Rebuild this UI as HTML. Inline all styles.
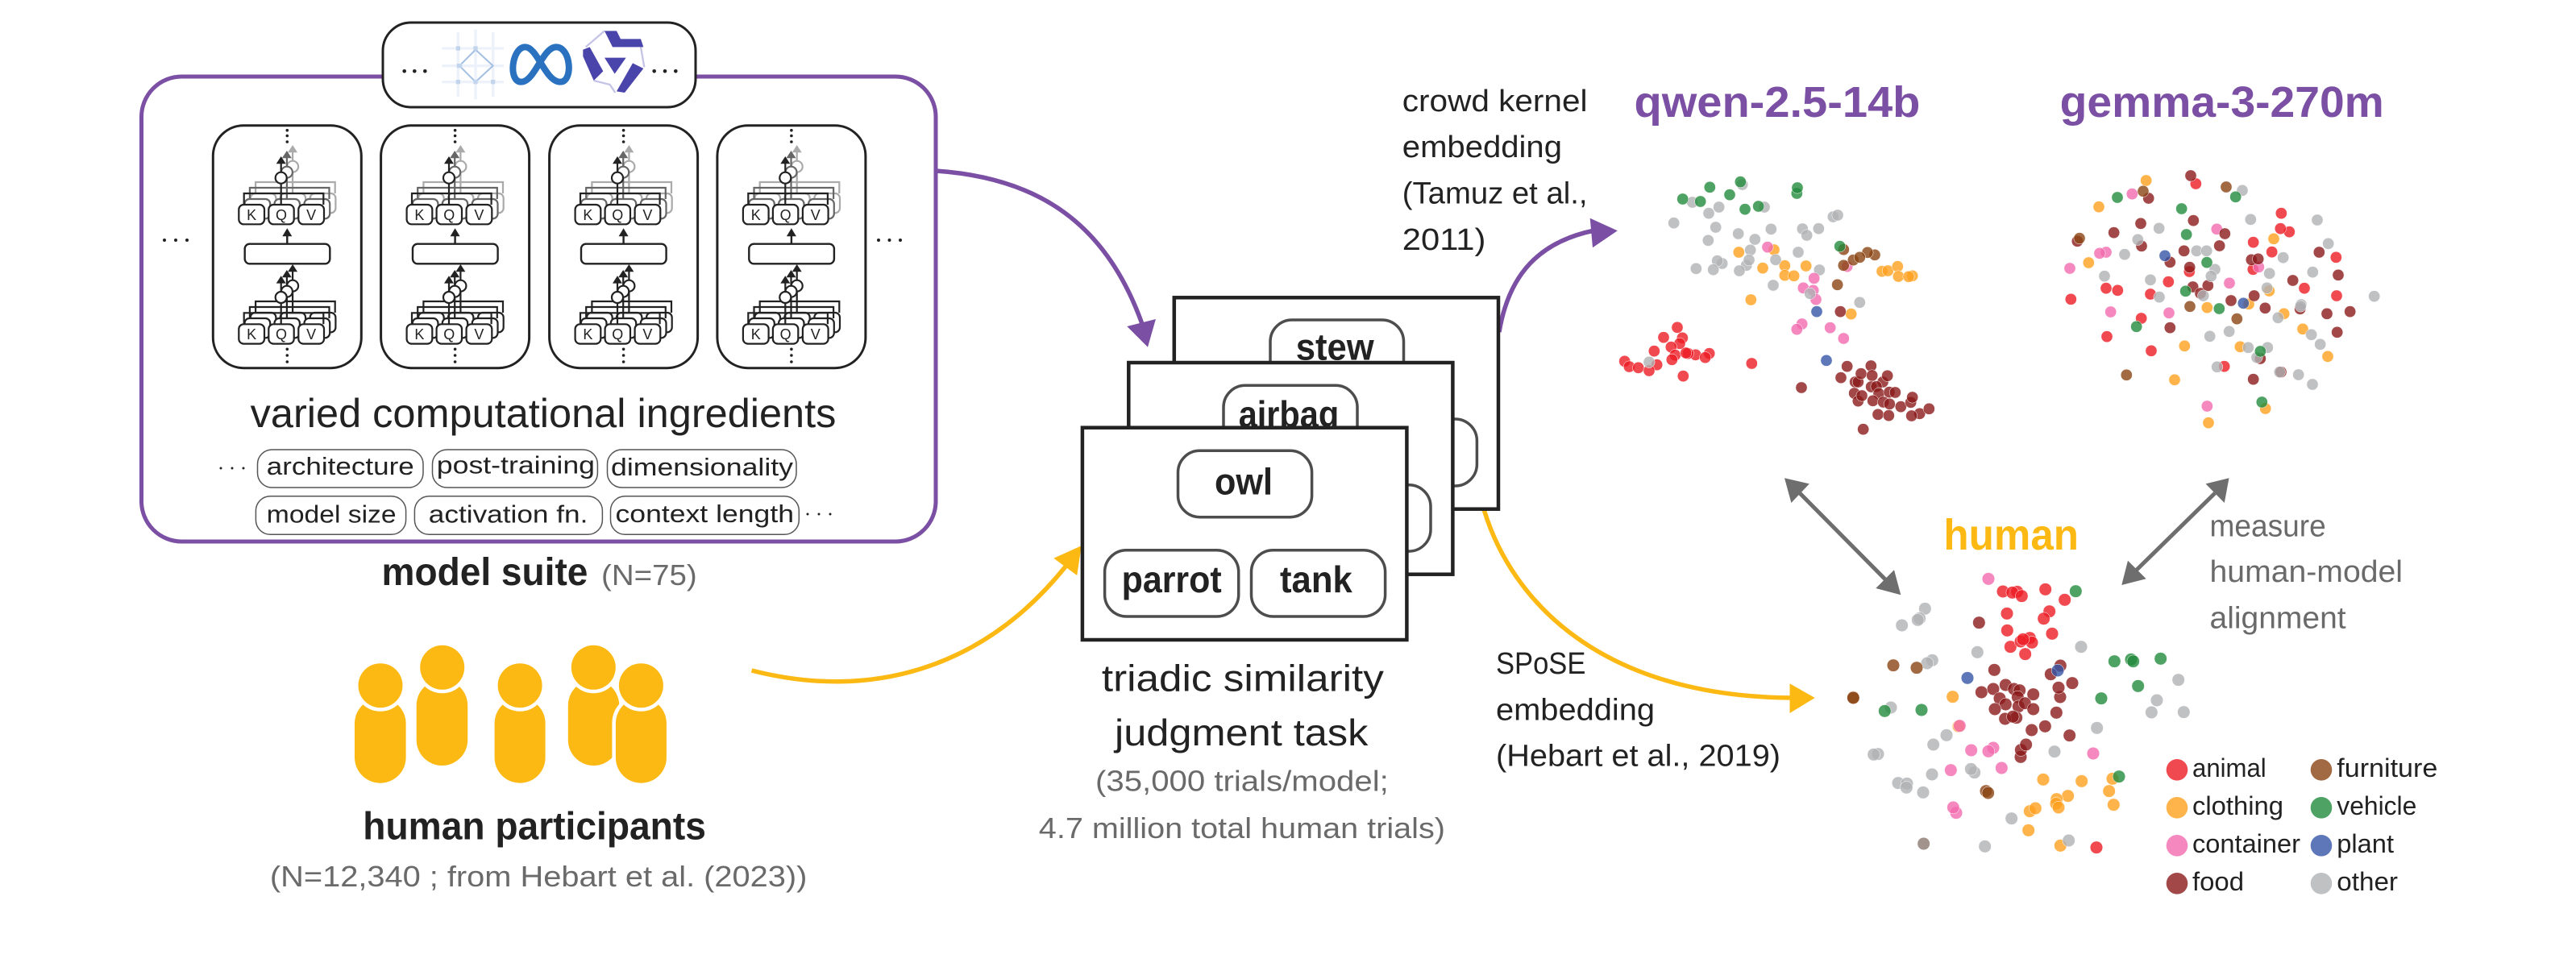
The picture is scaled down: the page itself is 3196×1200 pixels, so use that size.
<!DOCTYPE html>
<html><head><meta charset="utf-8"><title>Triadic similarity diagram</title>
<style>
html,body{margin:0;padding:0;background:#fff}
svg{display:block}
text{font-family:"Liberation Sans",sans-serif;fill:#222}
.b{font-weight:bold}
.l{fill:#6a6a6a}
.kqv{font-size:18px;text-anchor:middle}
.pill{fill:#fff;stroke:#555;stroke-width:1.5}
.tp{fill:#fff;stroke:#4d4d4d;stroke-width:3.5}
.card{fill:#fff;stroke:#222;stroke-width:4.5}
.s circle{r:21.5px;stroke:#fff;stroke-width:1.5;fill-opacity:.8}
.h circle{r:23.5px}
.a{fill:#ed1c24}.c{fill:#ffa01e}.k{fill:#f26aae}.f{fill:#8b1a1a}.u{fill:#8b4513}.v{fill:#228b3c}.p{fill:#3555a8}.o{fill:#b0b1b4}
.lg circle{fill-opacity:.8}
.lg text{font-size:32px}
</style></head><body>
<svg width="3196" height="1200" viewBox="0 0 3196 1200" xmlns="http://www.w3.org/2000/svg">
<defs>
<g id="L">
<path d="M-53.6,0V-14H45V0M-7.6,0V-33" fill="none" stroke="currentColor" stroke-width="2.2"/>
<g fill="#fff" stroke="currentColor" stroke-width="2.2">
<rect x="-60" y="0" width="31.7" height="24.3" rx="6"/>
<rect x="-23" y="0" width="31.4" height="24.3" rx="6"/>
<rect x="14" y="0" width="31.7" height="24.3" rx="6"/>
<circle cx="-7.6" cy="-33.3" r="7"/>
</g>
<path d="M-7.6,-40V-52" stroke="currentColor" stroke-width="2.2"/>
<polygon points="-7.6,-60 -13.6,-50.7 -1.6,-50.7" fill="currentColor"/>
</g>
<g id="P">
<rect x="-92" y="155.7" width="184" height="301" rx="38" fill="#fff" stroke="#222" stroke-width="3"/>
<g fill="#222">
<circle cx="0" cy="161.7" r="1.8"/><circle cx="0" cy="168.5" r="1.8"/><circle cx="0" cy="176" r="1.8"/>
<circle cx="0" cy="433.3" r="1.8"/><circle cx="0" cy="441" r="1.8"/><circle cx="0" cy="449" r="1.8"/>
</g>
<use href="#L" transform="translate(14.4,240)" style="color:#aaa"/>
<use href="#L" transform="translate(7.2,247)" style="color:#666"/>
<use href="#L" transform="translate(0,254)" style="color:#222"/>
<path d="M0,302.7V292" stroke="#222" stroke-width="2.4"/>
<polygon points="0,283.3 -6,293.3 6,293.3" fill="#222"/>
<rect x="-52.6" y="302.7" width="105.6" height="24.6" rx="6" fill="#fff" stroke="#222" stroke-width="2.4"/>
<use href="#L" transform="translate(14.4,388)" style="color:#222"/>
<use href="#L" transform="translate(7.2,395)" style="color:#222"/>
<use href="#L" transform="translate(0,402.3)" style="color:#222"/>
</g>
</defs>

<!-- Model suite box -->
<rect x="175.5" y="95" width="985.5" height="577" rx="50" fill="#fff" stroke="#7b4fa3" stroke-width="5"/>
<rect x="475" y="28" width="388" height="105" rx="35" fill="#fff" stroke="#222" stroke-width="3"/>
<g fill="#222">
<circle cx="501.7" cy="88.3" r="2.3"/><circle cx="514.3" cy="88.3" r="2.3"/><circle cx="527.3" cy="88.3" r="2.3"/>
<circle cx="811.7" cy="88.3" r="2.3"/><circle cx="825" cy="88.3" r="2.3"/><circle cx="838.3" cy="88.3" r="2.3"/>
<circle cx="204" cy="298" r="2"/><circle cx="218" cy="298" r="2"/><circle cx="232" cy="298" r="2"/>
<circle cx="1090" cy="298" r="2"/><circle cx="1103.5" cy="298" r="2"/><circle cx="1117" cy="298" r="2"/>
<circle cx="274" cy="581" r="1.5"/><circle cx="288" cy="581" r="1.5"/><circle cx="302" cy="581" r="1.5"/>
<circle cx="1002" cy="638" r="1.5"/><circle cx="1016" cy="638" r="1.5"/><circle cx="1030" cy="638" r="1.5"/>
</g>
<g transform="translate(470,20) scale(.33333)">
<path d="M295,60V300M360,50V310M425,60V300M235,120H465M235,185H465M235,245H465" stroke="#edf2fa" stroke-width="10" fill="none"/>
<path d="M300,185L360,125L425,185L360,245Z" fill="none" stroke="#a3bfe2" stroke-width="6"/>
<g fill="#c3d5ec"><rect x="287" y="112" width="16" height="16"/><rect x="352" y="112" width="16" height="16"/><rect x="290" y="177" width="20" height="16"/><rect x="287" y="237" width="16" height="16"/><rect x="352" y="237" width="16" height="16"/><rect x="417" y="237" width="16" height="16"/></g>
<path d="M530,245C480,245 495,115 545,115C590,115 620,245 675,245C725,245 715,115 660,115C610,115 580,245 530,245Z" fill="none" stroke="#2a72c0" stroke-width="24"/>
<path d="M840,55L770,115M800,240L860,255L880,285M975,115L988,190" fill="none" stroke="#c6c4e6" stroke-width="7"/>
<g fill="#4a45ab">
<polygon points="840,55 885,55 900,85 975,85 985,115 870,115"/>
<polygon points="760,125 785,115 835,205 800,240 760,150"/>
<polygon points="885,280 945,175 985,195 915,285"/>
<polygon points="840,155 920,155 878,215"/>
</g>
</g>

<use href="#P" x="356.3"/><use href="#P" x="564.6"/><use href="#P" x="773.6"/><use href="#P" x="981.9"/>

<g class="kqv">
<text class="kqv" x="312.1" y="273">K</text><text class="kqv" x="349" y="273">Q</text><text class="kqv" x="386.1" y="273">V</text>
<text class="kqv" x="312.1" y="421">K</text><text class="kqv" x="349" y="421">Q</text><text class="kqv" x="386.1" y="421">V</text>
<text class="kqv" x="520.4" y="273">K</text><text class="kqv" x="557.3" y="273">Q</text><text class="kqv" x="594.4" y="273">V</text>
<text class="kqv" x="520.4" y="421">K</text><text class="kqv" x="557.3" y="421">Q</text><text class="kqv" x="594.4" y="421">V</text>
<text class="kqv" x="729.4" y="273">K</text><text class="kqv" x="766.3" y="273">Q</text><text class="kqv" x="803.4" y="273">V</text>
<text class="kqv" x="729.4" y="421">K</text><text class="kqv" x="766.3" y="421">Q</text><text class="kqv" x="803.4" y="421">V</text>
<text class="kqv" x="937.7" y="273">K</text><text class="kqv" x="974.6" y="273">Q</text><text class="kqv" x="1011.7" y="273">V</text>
<text class="kqv" x="937.7" y="421">K</text><text class="kqv" x="974.6" y="421">Q</text><text class="kqv" x="1011.7" y="421">V</text>
</g>

<text x="310.7" y="530" font-size="50" textLength="726.7" lengthAdjust="spacingAndGlyphs">varied computational ingredients</text>

<rect class="pill" x="319.5" y="558" width="205.5" height="47" rx="18"/>
<rect class="pill" x="536.5" y="558" width="204.9" height="47" rx="18"/>
<rect class="pill" x="753.5" y="558" width="234.5" height="47" rx="18"/>
<rect class="pill" x="317.4" y="615.7" width="186.2" height="47.6" rx="18"/>
<rect class="pill" x="514.4" y="615.7" width="233" height="47.6" rx="18"/>
<rect class="pill" x="757.5" y="615.7" width="233.8" height="47.6" rx="18"/>
<text x="330.8" y="589" font-size="31" textLength="182.9" lengthAdjust="spacingAndGlyphs">architecture</text>
<text x="541.8" y="587.3" font-size="31" textLength="196.2" lengthAdjust="spacingAndGlyphs">post-training</text>
<text x="758" y="590" font-size="31" textLength="226" lengthAdjust="spacingAndGlyphs">dimensionality</text>
<text x="330.8" y="648.3" font-size="31" textLength="160.8" lengthAdjust="spacingAndGlyphs">model size</text>
<text x="531.8" y="648.3" font-size="31" textLength="197.6" lengthAdjust="spacingAndGlyphs">activation fn.</text>
<text x="763.5" y="648" font-size="31" textLength="221.5" lengthAdjust="spacingAndGlyphs">context length</text>

<text class="b" x="473.5" y="726" font-size="48" textLength="255.9" lengthAdjust="spacingAndGlyphs">model suite</text>
<text class="l" x="746" y="726" font-size="36" textLength="118.7" lengthAdjust="spacingAndGlyphs">(N=75)</text>

<!-- people -->
<g fill="#fdb913">
<rect x="440" y="866" width="63.6" height="105.7" rx="31.8"/>
<circle cx="472" cy="850.7" r="27.5" stroke="#fff" stroke-width="9" paint-order="stroke"/>
<rect x="516.7" y="843.6" width="63.5" height="106.4" rx="31.8"/>
<circle cx="548.7" cy="828.3" r="27.5" stroke="#fff" stroke-width="9" paint-order="stroke"/>
<rect x="613.6" y="866" width="63" height="105.7" rx="31.5"/>
<circle cx="645.1" cy="850.7" r="27.5" stroke="#fff" stroke-width="9" paint-order="stroke"/>
<rect x="704.8" y="843.6" width="63.5" height="106.4" rx="31.8"/>
<circle cx="736.3" cy="828.3" r="27.5" stroke="#fff" stroke-width="9" paint-order="stroke"/>
<rect x="763.9" y="866" width="63" height="105.7" rx="31.5" stroke="#fff" stroke-width="9" paint-order="stroke"/>
<circle cx="795.4" cy="850.7" r="27.5" stroke="#fff" stroke-width="9" paint-order="stroke"/>
</g>
<text class="b" x="450.3" y="1041.7" font-size="48" textLength="425.6" lengthAdjust="spacingAndGlyphs">human participants</text>
<text class="l" x="334.9" y="1100" font-size="36" textLength="666.5" lengthAdjust="spacingAndGlyphs">(N=12,340 ; from Hebart et al. (2023))</text>

<!-- arrows into and out of task -->
<path d="M1161,212C1280,220 1370,270 1417,402" fill="none" stroke="#7b4fa3" stroke-width="5.5"/>
<polygon points="1424,430.7 1398.3,405 1433.9,396" fill="#7b4fa3"/>
<path d="M932.6,832C1080,870 1220,830 1322,703" fill="none" stroke="#fdb913" stroke-width="5.5"/>
<polygon points="1341.7,677.3 1307.3,692.7 1336.2,714" fill="#fdb913"/>
<path d="M1860,412C1872,340 1910,300 1978,286" fill="none" stroke="#7b4fa3" stroke-width="5.5"/>
<polygon points="2006.8,286.3 1972.7,270.7 1976,307.3" fill="#7b4fa3"/>
<path d="M1841,632C1875,745 1985,865 2225,866" fill="none" stroke="#fdb913" stroke-width="5.5"/>
<polygon points="2251.7,866 2220.5,848.3 2220.5,885" fill="#fdb913"/>

<!-- cards -->
<rect class="card" x="1456.8" y="369.3" width="402.2" height="262.4"/>
<rect class="tp" x="1576" y="397" width="165.5" height="82.4" rx="27"/>
<rect class="tp" x="1666" y="520" width="166.4" height="83" rx="27"/>
<text class="b" x="1607.8" y="446.7" font-size="46" textLength="96.9" lengthAdjust="spacingAndGlyphs">stew</text>
<rect class="card" x="1400.3" y="450" width="402.1" height="262.7"/>
<rect class="tp" x="1518" y="478.3" width="166" height="82.4" rx="27"/>
<rect class="tp" x="1609" y="601.7" width="166" height="82.4" rx="27"/>
<text class="b" x="1536.7" y="530" font-size="46" textLength="124.5" lengthAdjust="spacingAndGlyphs">airbag</text>
<rect class="card" x="1342.9" y="530.7" width="402.5" height="263.3"/>
<rect class="tp" x="1461.5" y="559.3" width="166.1" height="82.4" rx="27"/>
<rect class="tp" x="1370.6" y="682.7" width="166.1" height="82.3" rx="27"/>
<rect class="tp" x="1552.5" y="682.7" width="166.1" height="82.3" rx="27"/>
<text class="b" x="1507" y="613.3" font-size="46" textLength="72" lengthAdjust="spacingAndGlyphs">owl</text>
<text class="b" x="1391.6" y="735" font-size="46" textLength="124.1" lengthAdjust="spacingAndGlyphs">parrot</text>
<text class="b" x="1588" y="735" font-size="46" textLength="89.8" lengthAdjust="spacingAndGlyphs">tank</text>

<text x="1366.9" y="857.3" font-size="46" textLength="350" lengthAdjust="spacingAndGlyphs">triadic similarity</text>
<text x="1383" y="925" font-size="46" textLength="314.4" lengthAdjust="spacingAndGlyphs">judgment task</text>
<text class="l" x="1359" y="981.7" font-size="36" textLength="363.8" lengthAdjust="spacingAndGlyphs">(35,000 trials/model;</text>
<text class="l" x="1288.8" y="1040" font-size="36" textLength="504.2" lengthAdjust="spacingAndGlyphs">4.7 million total human trials)</text>

<text x="1856" y="836" font-size="38" textLength="111.4" lengthAdjust="spacingAndGlyphs">SPoSE</text>
<text x="1856" y="893.3" font-size="38" textLength="197" lengthAdjust="spacingAndGlyphs">embedding</text>
<text x="1856" y="950.7" font-size="38" textLength="353" lengthAdjust="spacingAndGlyphs">(Hebart et al., 2019)</text>

<text x="1739.8" y="137.9" font-size="38" textLength="229.7" lengthAdjust="spacingAndGlyphs">crowd kernel</text>
<text x="1739.8" y="195" font-size="38" textLength="198.2" lengthAdjust="spacingAndGlyphs">embedding</text>
<text x="1739.8" y="252.5" font-size="38" textLength="229.7" lengthAdjust="spacingAndGlyphs">(Tamuz et al.,</text>
<text x="1739.8" y="310" font-size="38" textLength="103.6" lengthAdjust="spacingAndGlyphs">2011)</text>

<text class="b" x="2027.5" y="145" font-size="54" textLength="354.9" lengthAdjust="spacingAndGlyphs" style="fill:#7b4fa3">qwen-2.5-14b</text>
<text class="b" x="2555.7" y="145" font-size="54" textLength="402.1" lengthAdjust="spacingAndGlyphs" style="fill:#7b4fa3">gemma-3-270m</text>
<text class="b" x="2411.4" y="682" font-size="54" textLength="167.6" lengthAdjust="spacingAndGlyphs" style="fill:#fdb913">human</text>
<text class="l" x="2741.5" y="665.5" font-size="38" textLength="144.2" lengthAdjust="spacingAndGlyphs">measure</text>
<text class="l" x="2741.5" y="722" font-size="38" textLength="239.5" lengthAdjust="spacingAndGlyphs">human-model</text>
<text class="l" x="2741.5" y="779.7" font-size="38" textLength="169.1" lengthAdjust="spacingAndGlyphs">alignment</text>

<!-- gray double arrows -->
<path d="M2233,612L2340,720" stroke="#6e6e6e" stroke-width="5"/>
<polygon points="2214,593.3 2244.8,600.4 2222.4,624" fill="#6e6e6e"/>
<polygon points="2358.3,738.3 2327.3,730 2350,707.3" fill="#6e6e6e"/>
<path d="M2650,708L2748,612" stroke="#6e6e6e" stroke-width="5"/>
<polygon points="2765.5,593.3 2736.5,600.4 2759.8,624" fill="#6e6e6e"/>
<polygon points="2632.3,726 2640,695.7 2662.7,718.3" fill="#6e6e6e"/>

<!-- qwen scatter -->
<g class="s" transform="translate(1950,180) scale(.33333)">
<circle class="o" cx="635" cy="147"/><circle class="o" cx="449" cy="213"/><circle class="o" cx="717" cy="231"/><circle class="o" cx="548" cy="231"/><circle class="o" cx="510" cy="254"/><circle class="o" cx="380" cy="290"/><circle class="o" cx="536" cy="306"/><circle class="o" cx="620" cy="330"/><circle class="o" cx="508" cy="355"/><circle class="o" cx="682" cy="351"/><circle class="o" cx="742" cy="313"/><circle class="o" cx="859" cy="312"/><circle class="o" cx="875" cy="336"/><circle class="o" cx="919" cy="311"/><circle class="o" cx="973" cy="267"/><circle class="o" cx="990" cy="261"/><circle class="o" cx="843" cy="399"/>
<circle class="c" cx="622" cy="399"/><circle class="c" cx="753" cy="390"/><circle class="c" cx="711" cy="458"/><circle class="c" cx="793" cy="449"/><circle class="c" cx="793" cy="485"/><circle class="c" cx="827" cy="487"/><circle class="c" cx="872" cy="450"/><circle class="c" cx="667" cy="576"/><circle class="c" cx="1040" cy="629"/><circle class="c" cx="1155" cy="470"/><circle class="c" cx="1177" cy="468"/><circle class="c" cx="1213" cy="452"/><circle class="c" cx="1216" cy="489"/><circle class="c" cx="1268" cy="487"/><circle class="c" cx="1254" cy="490"/>
<circle class="o" cx="665" cy="391"/><circle class="o" cx="650" cy="448"/><circle class="o" cx="660" cy="428"/><circle class="o" cx="560" cy="441"/><circle class="o" cx="542" cy="431"/><circle class="o" cx="463" cy="460"/><circle class="o" cx="527" cy="464"/><circle class="o" cx="624" cy="468"/><circle class="o" cx="759" cy="427"/><circle class="o" cx="922" cy="465"/><circle class="o" cx="750" cy="522"/><circle class="o" cx="1072" cy="586"/>
<circle class="k" cx="729" cy="380"/><circle class="k" cx="902" cy="496"/><circle class="k" cx="862" cy="532"/><circle class="k" cx="899" cy="541"/><circle class="k" cx="909" cy="575"/><circle class="k" cx="857" cy="666"/><circle class="k" cx="838" cy="686"/><circle class="k" cx="962" cy="680"/><circle class="k" cx="1012" cy="720"/><circle class="k" cx="1025" cy="452"/>
<circle class="o" cx="887" cy="553"/>
<circle class="u" cx="1012" cy="389"/><circle class="u" cx="1012" cy="448"/><circle class="u" cx="1048" cy="428"/><circle class="u" cx="1128" cy="409"/><circle class="u" cx="1101" cy="400"/><circle class="u" cx="1072" cy="418"/><circle class="u" cx="989" cy="520"/>
<circle class="v" cx="514" cy="157"/><circle class="v" cx="628" cy="137"/><circle class="v" cx="588" cy="185"/><circle class="v" cx="413" cy="201"/><circle class="v" cx="479" cy="210"/><circle class="v" cx="645" cy="239"/><circle class="v" cx="695" cy="228"/><circle class="v" cx="838" cy="180"/><circle class="v" cx="840" cy="159"/><circle class="v" cx="998" cy="377"/>
<circle class="p" cx="912" cy="620"/><circle class="p" cx="948" cy="802"/>
<circle class="f" cx="1000" cy="620"/><circle class="f" cx="855" cy="903"/><circle class="f" cx="1025" cy="824"/><circle class="f" cx="1114" cy="822"/><circle class="f" cx="1002" cy="866"/><circle class="f" cx="1055" cy="882"/><circle class="f" cx="1158" cy="882"/><circle class="f" cx="1066" cy="882"/><circle class="f" cx="1077" cy="851"/><circle class="f" cx="1118" cy="858"/><circle class="f" cx="1175" cy="859"/><circle class="f" cx="1115" cy="900"/><circle class="f" cx="1134" cy="899"/><circle class="f" cx="1052" cy="924"/><circle class="f" cx="1143" cy="925"/><circle class="f" cx="1066" cy="953"/><circle class="f" cx="1080" cy="933"/><circle class="f" cx="1121" cy="952"/><circle class="f" cx="1160" cy="957"/><circle class="f" cx="1183" cy="964"/><circle class="f" cx="1182" cy="920"/><circle class="f" cx="1204" cy="921"/><circle class="f" cx="1225" cy="974"/><circle class="f" cx="1262" cy="958"/><circle class="f" cx="1268" cy="939"/><circle class="f" cx="1140" cy="1003"/><circle class="f" cx="1180" cy="1007"/><circle class="f" cx="1295" cy="1000"/><circle class="f" cx="1265" cy="1008"/><circle class="f" cx="1330" cy="982"/><circle class="f" cx="1085" cy="1058"/>
<circle class="a" cx="393" cy="679"/><circle class="a" cx="342" cy="716"/><circle class="a" cx="412" cy="718"/><circle class="a" cx="402" cy="739"/><circle class="a" cx="370" cy="752"/><circle class="a" cx="307" cy="767"/><circle class="a" cx="385" cy="782"/><circle class="a" cx="373" cy="799"/><circle class="a" cx="461" cy="781"/><circle class="a" cx="433" cy="776"/><circle class="a" cx="425" cy="774"/><circle class="a" cx="512" cy="776"/><circle class="a" cx="497" cy="791"/><circle class="a" cx="197" cy="805"/><circle class="a" cx="214" cy="825"/><circle class="a" cx="248" cy="829"/><circle class="a" cx="317" cy="818"/><circle class="a" cx="288" cy="840"/><circle class="a" cx="415" cy="860"/><circle class="a" cx="670" cy="813"/>
<circle class="o" cx="288" cy="808"/>
</g>

<!-- gemma scatter -->
<g class="s" transform="translate(2520,180) scale(.33333)">
<circle class="c" cx="428" cy="132"/><circle class="c" cx="252" cy="230"/><circle class="c" cx="214" cy="438"/><circle class="c" cx="903" cy="349"/><circle class="c" cx="886" cy="543"/><circle class="c" cx="655" cy="605"/><circle class="c" cx="810" cy="592"/><circle class="c" cx="941" cy="628"/><circle class="c" cx="1011" cy="685"/><circle class="c" cx="1104" cy="787"/><circle class="c" cx="571" cy="748"/><circle class="c" cx="778" cy="751"/><circle class="c" cx="534" cy="874"/><circle class="c" cx="872" cy="981"/><circle class="c" cx="660" cy="1034"/>
<circle class="a" cx="613" cy="144"/><circle class="a" cx="931" cy="254"/><circle class="a" cx="961" cy="323"/><circle class="a" cx="928" cy="311"/><circle class="a" cx="827" cy="362"/><circle class="a" cx="896" cy="398"/><circle class="a" cx="1135" cy="418"/><circle class="a" cx="826" cy="463"/><circle class="a" cx="589" cy="471"/><circle class="a" cx="511" cy="509"/><circle class="a" cx="1017" cy="533"/><circle class="a" cx="279" cy="533"/><circle class="a" cx="322" cy="541"/><circle class="a" cx="444" cy="555"/><circle class="a" cx="148" cy="574"/><circle class="a" cx="1137" cy="561"/><circle class="a" cx="410" cy="645"/><circle class="a" cx="282" cy="713"/><circle class="a" cx="447" cy="766"/><circle class="a" cx="719" cy="824"/>
<circle class="k" cx="376" cy="182"/><circle class="k" cx="691" cy="313"/><circle class="k" cx="279" cy="399"/><circle class="k" cx="255" cy="403"/><circle class="k" cx="144" cy="459"/><circle class="k" cx="847" cy="454"/><circle class="k" cx="738" cy="514"/><circle class="k" cx="296" cy="621"/><circle class="k" cx="513" cy="625"/><circle class="k" cx="655" cy="972"/>
<circle class="f" cx="594" cy="114"/><circle class="f" cx="437" cy="198"/><circle class="f" cx="408" cy="292"/><circle class="f" cx="604" cy="281"/><circle class="f" cx="308" cy="326"/><circle class="f" cx="721" cy="330"/><circle class="f" cx="701" cy="375"/><circle class="f" cx="411" cy="376"/><circle class="f" cx="172" cy="358"/><circle class="f" cx="569" cy="394"/><circle class="f" cx="517" cy="436"/><circle class="f" cx="820" cy="427"/><circle class="f" cx="845" cy="424"/><circle class="f" cx="590" cy="455"/><circle class="f" cx="1072" cy="399"/><circle class="f" cx="1143" cy="484"/><circle class="f" cx="974" cy="504"/><circle class="f" cx="602" cy="528"/><circle class="f" cx="630" cy="552"/><circle class="f" cx="658" cy="523"/><circle class="f" cx="830" cy="561"/><circle class="f" cx="744" cy="579"/><circle class="f" cx="871" cy="607"/><circle class="f" cx="1001" cy="610"/><circle class="f" cx="1101" cy="628"/><circle class="f" cx="1187" cy="620"/><circle class="f" cx="517" cy="680"/><circle class="f" cx="1139" cy="697"/><circle class="f" cx="827" cy="872"/><circle class="f" cx="930" cy="845"/><circle class="f" cx="853" cy="795"/>
<circle class="u" cx="726" cy="156"/><circle class="u" cx="417" cy="172"/><circle class="u" cx="180" cy="347"/><circle class="u" cx="591" cy="601"/><circle class="u" cx="766" cy="647"/><circle class="u" cx="355" cy="856"/>
<circle class="o" cx="786" cy="169"/><circle class="o" cx="817" cy="277"/><circle class="o" cx="1065" cy="279"/><circle class="o" cx="476" cy="310"/><circle class="o" cx="397" cy="352"/><circle class="o" cx="348" cy="407"/><circle class="o" cx="616" cy="394"/><circle class="o" cx="653" cy="394"/><circle class="o" cx="1106" cy="367"/><circle class="o" cx="938" cy="419"/><circle class="o" cx="684" cy="463"/><circle class="o" cx="670" cy="488"/><circle class="o" cx="887" cy="478"/><circle class="o" cx="1048" cy="473"/><circle class="o" cx="273" cy="488"/><circle class="o" cx="444" cy="502"/><circle class="o" cx="878" cy="532"/><circle class="o" cx="477" cy="566"/><circle class="o" cx="641" cy="561"/><circle class="o" cx="1277" cy="563"/><circle class="o" cx="1005" cy="594"/><circle class="o" cx="1003" cy="600"/><circle class="o" cx="919" cy="643"/><circle class="o" cx="737" cy="694"/><circle class="o" cx="665" cy="712"/><circle class="o" cx="1043" cy="706"/><circle class="o" cx="1076" cy="742"/><circle class="o" cx="808" cy="754"/><circle class="o" cx="880" cy="754"/><circle class="o" cx="840" cy="791"/><circle class="o" cx="692" cy="826"/><circle class="o" cx="925" cy="845"/><circle class="o" cx="995" cy="855"/><circle class="o" cx="1047" cy="891"/>
<circle class="v" cx="321" cy="195"/><circle class="v" cx="761" cy="193"/><circle class="v" cx="560" cy="237"/><circle class="v" cx="578" cy="333"/><circle class="v" cx="654" cy="437"/><circle class="v" cx="575" cy="544"/><circle class="v" cx="700" cy="609"/><circle class="v" cx="392" cy="676"/><circle class="v" cx="853" cy="768"/><circle class="v" cx="859" cy="957"/>
<circle class="p" cx="498" cy="412"/><circle class="p" cx="790" cy="589"/>
</g>

<!-- human scatter -->
<g class="s h" transform="translate(2260,680) scale(.33333)">
<circle class="o" cx="385" cy="226"/><circle class="o" cx="365" cy="262"/><circle class="o" cx="358" cy="268"/><circle class="o" cx="299" cy="288"/><circle class="o" cx="580" cy="388"/><circle class="o" cx="966" cy="368"/><circle class="o" cx="412" cy="418"/><circle class="o" cx="393" cy="429"/><circle class="o" cx="1328" cy="491"/><circle class="o" cx="1248" cy="567"/><circle class="o" cx="1228" cy="612"/><circle class="o" cx="1348" cy="611"/><circle class="o" cx="258" cy="594"/><circle class="o" cx="1025" cy="670"/><circle class="o" cx="465" cy="697"/><circle class="o" cx="416" cy="732"/><circle class="o" cx="867" cy="758"/><circle class="o" cx="210" cy="767"/><circle class="o" cx="194" cy="769"/><circle class="o" cx="411" cy="843"/><circle class="o" cx="569" cy="836"/><circle class="o" cx="556" cy="823"/><circle class="o" cx="285" cy="875"/><circle class="o" cx="318" cy="877"/><circle class="o" cx="316" cy="892"/><circle class="o" cx="378" cy="910"/><circle class="o" cx="707" cy="1007"/><circle class="o" cx="608" cy="1111"/><circle class="o" cx="380" cy="1101" style="fill:#8b7870"/>
<circle class="c" cx="488" cy="554"/><circle class="c" cx="510" cy="664"/><circle class="c" cx="825" cy="862"/><circle class="c" cx="968" cy="868"/><circle class="c" cx="1083" cy="859"/><circle class="c" cx="1070" cy="905"/><circle class="c" cx="1087" cy="956"/><circle class="c" cx="917" cy="923"/><circle class="c" cx="875" cy="935"/><circle class="c" cx="873" cy="952"/><circle class="c" cx="882" cy="966"/><circle class="c" cx="775" cy="980"/><circle class="c" cx="796" cy="969"/><circle class="c" cx="770" cy="1051"/><circle class="c" cx="889" cy="1108"/>
<circle class="o" cx="920" cy="1089"/>
<circle class="k" cx="621" cy="115"/><circle class="k" cx="514" cy="662"/><circle class="k" cx="557" cy="753"/><circle class="k" cx="639" cy="744"/><circle class="k" cx="621" cy="757"/><circle class="k" cx="481" cy="827"/><circle class="k" cx="670" cy="819"/><circle class="k" cx="1011" cy="765"/><circle class="k" cx="501" cy="986"/><circle class="k" cx="490" cy="966"/>
<circle class="a" cx="675" cy="162"/><circle class="a" cx="728" cy="163"/><circle class="a" cx="710" cy="166"/><circle class="a" cx="745" cy="179"/><circle class="a" cx="833" cy="154"/><circle class="a" cx="905" cy="193"/><circle class="a" cx="690" cy="244"/><circle class="a" cx="848" cy="236"/><circle class="a" cx="827" cy="263"/><circle class="a" cx="691" cy="307"/><circle class="a" cx="858" cy="319"/><circle class="a" cx="703" cy="368"/><circle class="a" cx="775" cy="335"/><circle class="a" cx="741" cy="348"/><circle class="a" cx="783" cy="352"/><circle class="a" cx="750" cy="340"/><circle class="a" cx="758" cy="395"/><circle class="a" cx="1023" cy="1115"/>
<circle class="f" cx="586" cy="278"/><circle class="f" cx="643" cy="454"/><circle class="f" cx="853" cy="470"/><circle class="f" cx="889" cy="438"/><circle class="f" cx="933" cy="503"/><circle class="f" cx="888" cy="555"/><circle class="f" cx="882" cy="520"/><circle class="f" cx="595" cy="537"/><circle class="f" cx="639" cy="525"/><circle class="f" cx="685" cy="510"/><circle class="f" cx="716" cy="525"/><circle class="f" cx="737" cy="530"/><circle class="f" cx="788" cy="545"/><circle class="f" cx="663" cy="560"/><circle class="f" cx="685" cy="582"/><circle class="f" cx="730" cy="555"/><circle class="f" cx="733" cy="590"/><circle class="f" cx="757" cy="578"/><circle class="f" cx="788" cy="600"/><circle class="f" cx="645" cy="600"/><circle class="f" cx="725" cy="632"/><circle class="f" cx="683" cy="636"/><circle class="f" cx="712" cy="628"/><circle class="f" cx="874" cy="613"/><circle class="f" cx="832" cy="664"/><circle class="f" cx="782" cy="678"/><circle class="f" cx="923" cy="698"/><circle class="f" cx="741" cy="778"/><circle class="f" cx="742" cy="752"/><circle class="f" cx="761" cy="732"/>
<circle class="p" cx="543" cy="484"/><circle class="p" cx="879" cy="456"/>
<circle class="u" cx="267" cy="437"/><circle class="u" cx="354" cy="446"/><circle class="u" cx="118" cy="556"/><circle class="u" cx="118" cy="558"/><circle class="u" cx="612" cy="905"/><circle class="u" cx="620" cy="912"/>
<circle class="v" cx="946" cy="161"/><circle class="v" cx="1090" cy="422"/><circle class="v" cx="1152" cy="415"/><circle class="v" cx="1160" cy="422"/><circle class="v" cx="1262" cy="412"/><circle class="v" cx="1178" cy="514"/><circle class="v" cx="1041" cy="560"/><circle class="v" cx="372" cy="603"/><circle class="v" cx="235" cy="607"/><circle class="v" cx="1107" cy="851"/>
</g>

<!-- legend -->
<g class="lg">
<circle class="a" cx="2701" cy="955.3" r="13.3"/><circle class="c" cx="2701" cy="1002.3" r="13.3"/><circle class="k" cx="2701" cy="1049.3" r="13.3"/><circle class="f" cx="2701" cy="1096.3" r="13.3"/>
<circle class="u" cx="2880" cy="955.3" r="13.3"/><circle class="v" cx="2880" cy="1002.3" r="13.3"/><circle class="p" cx="2880" cy="1049.3" r="13.3"/><circle class="o" cx="2880" cy="1096.3" r="13.3"/>
<text x="2720" y="964" textLength="91.7" lengthAdjust="spacingAndGlyphs">animal</text>
<text x="2720" y="1011" textLength="113" lengthAdjust="spacingAndGlyphs">clothing</text>
<text x="2720" y="1058" textLength="134" lengthAdjust="spacingAndGlyphs">container</text>
<text x="2720" y="1105" textLength="64" lengthAdjust="spacingAndGlyphs">food</text>
<text x="2899.3" y="964" textLength="125" lengthAdjust="spacingAndGlyphs">furniture</text>
<text x="2899.3" y="1011" textLength="99" lengthAdjust="spacingAndGlyphs">vehicle</text>
<text x="2899.3" y="1058" textLength="70.7" lengthAdjust="spacingAndGlyphs">plant</text>
<text x="2899.3" y="1105" textLength="75.7" lengthAdjust="spacingAndGlyphs">other</text>
</g>
</svg>
</body></html>
